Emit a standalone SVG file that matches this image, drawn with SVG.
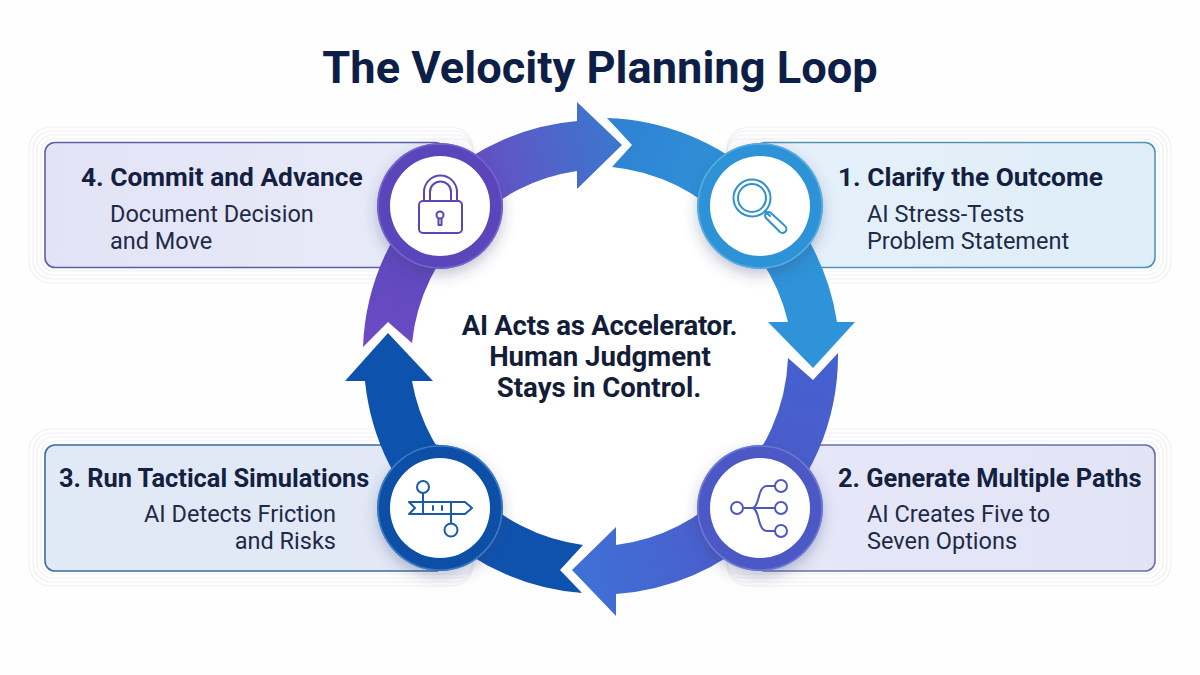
<svg xmlns="http://www.w3.org/2000/svg" width="1200" height="675" viewBox="0 0 1200 675">
<style>
text{font-family:Roboto,"Liberation Sans",sans-serif;fill:#14203f}
.title{font-size:45.200px;font-weight:700;fill:#0e1f47}
.h{font-size:26.300px;font-weight:700}
.hn{font-size:25.400px;font-weight:700}
.s{font-size:23.500px;font-weight:400;fill:#1e2a48}
.c{font-size:27.600px;font-weight:700;text-anchor:middle;fill:#141d38}
.r{fill:none;stroke:#f0f0f3;stroke-width:1.2}
.ic{fill:none;stroke-width:2;stroke-linecap:round;stroke-linejoin:round}
.hl{fill:none;stroke-width:1.6;stroke-opacity:.55}
</style>
<defs>
<filter id="sh" x="-30%" y="-30%" width="160%" height="170%"><feDropShadow dx="0" dy="6" stdDeviation="7" flood-color="#3a3f70" flood-opacity=".3"/></filter>
<linearGradient id="gA" gradientUnits="userSpaceOnUse" x1="470" y1="180" x2="622" y2="140"><stop offset="0" stop-color="#6a4cc2"/><stop offset="1" stop-color="#3a78cf"/></linearGradient>
<linearGradient id="gB" gradientUnits="userSpaceOnUse" x1="610" y1="140" x2="730" y2="200"><stop offset="0" stop-color="#2f82d4"/><stop offset="1" stop-color="#2f93d6"/></linearGradient>
<linearGradient id="gD" gradientUnits="userSpaceOnUse" x1="815" y1="360" x2="770" y2="500"><stop offset="0" stop-color="#4560d0"/><stop offset="1" stop-color="#4c5cc8"/></linearGradient>
<linearGradient id="gE" gradientUnits="userSpaceOnUse" x1="575" y1="570" x2="730" y2="530"><stop offset="0" stop-color="#3f70d6"/><stop offset="1" stop-color="#4c5ccb"/></linearGradient>
<linearGradient id="gH" gradientUnits="userSpaceOnUse" x1="388" y1="340" x2="420" y2="240"><stop offset="0" stop-color="#6c4ac4"/><stop offset="1" stop-color="#5b48bd"/></linearGradient>
<linearGradient id="g4" x1="0" y1="0" x2="1" y2="0"><stop offset="0" stop-color="#e2e3f6"/><stop offset="1" stop-color="#e8ebf8"/></linearGradient>
<linearGradient id="g1" x1="0" y1="0" x2="1" y2="0"><stop offset="0" stop-color="#e6f1fa"/><stop offset="1" stop-color="#deedf8"/></linearGradient>
<linearGradient id="g3" x1="0" y1="0" x2="1" y2="0"><stop offset="0" stop-color="#e0e9f6"/><stop offset="1" stop-color="#e2e8f6"/></linearGradient>
<linearGradient id="g2" x1="0" y1="0" x2="1" y2="0"><stop offset="0" stop-color="#e6e8f8"/><stop offset="1" stop-color="#e2e4f6"/></linearGradient>
</defs>
<rect width="1200" height="675" fill="#fefefe"/>
<text class="title" x="600" y="83" text-anchor="middle">The Velocity Planning Loop</text>

<g id="card-frames">
<g id="frame-4"><rect class="r" x="41" y="139" width="432" height="132" rx="13"/><rect class="r" x="37" y="135" width="436" height="140" rx="16"/><rect class="r" x="33" y="131" width="440" height="148" rx="19"/><rect class="r" x="29" y="127" width="444" height="156" rx="22"/></g>
<g id="frame-1"><rect class="r" x="727" y="139" width="432" height="132" rx="13"/><rect class="r" x="727" y="135" width="436" height="140" rx="16"/><rect class="r" x="727" y="131" width="440" height="148" rx="19"/><rect class="r" x="727" y="127" width="444" height="156" rx="22"/></g>
<g id="frame-3"><rect class="r" x="41" y="441" width="432" height="133" rx="13"/><rect class="r" x="37" y="437" width="436" height="141" rx="16"/><rect class="r" x="33" y="433" width="440" height="149" rx="19"/><rect class="r" x="29" y="429" width="444" height="157" rx="22"/></g>
<g id="frame-2"><rect class="r" x="727" y="441" width="432" height="133" rx="13"/><rect class="r" x="727" y="437" width="436" height="141" rx="16"/><rect class="r" x="727" y="433" width="440" height="149" rx="19"/><rect class="r" x="727" y="429" width="444" height="157" rx="22"/></g>
<circle cx="600" cy="356" r="192" fill="#fff"/>
</g>

<g id="card-4"><rect x="45" y="142.500" width="400" height="125" rx="10" fill="url(#g4)" stroke="#5c5ea6" stroke-width="1.6"/>
<text class="h" x="81" y="186">4. Commit and Advance</text><text class="s" x="110" y="222">Document Decision</text><text class="s" x="110" y="249">and Move</text></g>
<g id="card-1"><rect x="755" y="142.500" width="400" height="125" rx="10" fill="url(#g1)" stroke="#4f93b5" stroke-width="1.6"/>
<text class="h" x="838" y="186">1. Clarify the Outcome</text><text class="s" x="867" y="222">AI Stress-Tests</text><text class="s" x="867" y="249">Problem Statement</text></g>
<g id="card-3"><rect x="45" y="445" width="400" height="126" rx="10" fill="url(#g3)" stroke="#3b6c9f" stroke-width="1.6"/>
<text class="hn" x="59" y="487">3. Run Tactical Simulations</text><text class="s" x="336" y="522" text-anchor="end">AI Detects Friction</text><text class="s" x="336" y="549" text-anchor="end">and Risks</text></g>
<g id="card-2"><rect x="755" y="445" width="400" height="126" rx="10" fill="url(#g2)" stroke="#696fa9" stroke-width="1.6"/>
<text class="hn" x="838" y="487">2. Generate Multiple Paths</text><text class="s" x="867" y="522">AI Creates Five to</text><text class="s" x="867" y="549">Seven Options</text></g>

<g id="connectors">
<path fill="url(#gH)" d="M363 347L388 322L412 343A188 188 0 0 1 470 225L440 180A238 238 0 0 0 363 347Z"/>
<path fill="url(#gA)" d="M440 180A238 238 0 0 1 577 121L577 102L622 145L577 189L577 171A188 188 0 0 0 470 225Z"/>
<path fill="url(#gB)" d="M607 118A238 238 0 0 1 760 180L730 225A188 188 0 0 0 612 167L632 145Z"/>
<path fill="#2e93d8" d="M760 180A238 238 0 0 1 837 322L855 322L813 368L768 322L788 322A188 188 0 0 0 730 225Z"/>
<path fill="url(#gD)" d="M838 353A238 238 0 0 1 760 532L730 487A188 188 0 0 0 788 358L813 380Z"/>
<path fill="url(#gE)" d="M760 532A238 238 0 0 1 616 594L616 616L572 570L616 527L616 545A188 188 0 0 0 730 487Z"/>
<path fill="#0f52ae" d="M583 545L560 570L582 593A238 238 0 0 1 440 532L470 487A188 188 0 0 0 583 545Z"/>
<path fill="#0d53ae" d="M440 532A238 238 0 0 1 365 381L345 381L388 333L433 381L412 381A188 188 0 0 0 470 487Z"/>
</g>

<g id="node-4"><circle cx="440" cy="206" r="63" fill="#5a45bb" filter="url(#sh)"/><circle cx="440" cy="206" r="62" class="hl" stroke="#8a7bd8"/><circle cx="440" cy="206" r="50" fill="#fff"/>
<g class="ic" stroke="#5b46b4"><rect x="419" y="201" width="43" height="32" rx="4"/><path d="M424 201V192A16.500 16.500 0 0 1 457 192V201"/><path d="M430 201V192A10.500 10.500 0 0 1 451 192V201"/><path d="M438.500 219V225H441.500V219"/><circle cx="440" cy="215" r="3.500"/></g></g>
<g id="node-1"><circle cx="760" cy="206" r="63" fill="#2e93d6" filter="url(#sh)"/><circle cx="760" cy="206" r="62" class="hl" stroke="#7cc0ec"/><circle cx="760" cy="206" r="50" fill="#fff"/>
<g class="ic" stroke="#3193cc"><circle cx="752" cy="198" r="18.500"/><circle cx="752" cy="198" r="14"/><path d="M765 211L770 216M771 213L785 226A3.500 3.500 0 0 1 780 232L766 218A3.500 3.500 0 0 1 771 213Z"/></g></g>
<g id="node-2"><circle cx="760" cy="508" r="63" fill="#4b59c6" filter="url(#sh)"/><circle cx="760" cy="508" r="62" class="hl" stroke="#8b93e2"/><circle cx="760" cy="508" r="50" fill="#fff"/>
<g class="ic" stroke="#4f58bd"><circle cx="737" cy="508" r="6"/><circle cx="781" cy="486" r="6"/><circle cx="781" cy="508" r="6"/><circle cx="781" cy="531" r="6"/><path d="M743 508H775M752 508C760 508 757 486 767 486H775M752 508C760 508 757 531 767 531H775"/></g></g>
<g id="node-3"><circle cx="440" cy="508" r="63" fill="#0e50a6" filter="url(#sh)"/><circle cx="440" cy="508" r="62" class="hl" stroke="#5f9fe0"/><circle cx="440" cy="508" r="50" fill="#fff"/>
<g class="ic" stroke="#1a5aa6"><circle cx="423" cy="487" r="6"/><circle cx="451" cy="530" r="6.500"/><path d="M409 502H465L472 508L465 514H409L415 508Z"/><path d="M423 493V514M451 502V523.500M433 506V510M442 506V510"/></g></g>

<g id="center"><text class="c" x="599.500" y="335" letter-spacing="-.27">AI Acts as Accelerator.</text><text class="c" x="600" y="366">Human Judgment</text><text class="c" x="599" y="397">Stays in Control.</text></g>
</svg>
